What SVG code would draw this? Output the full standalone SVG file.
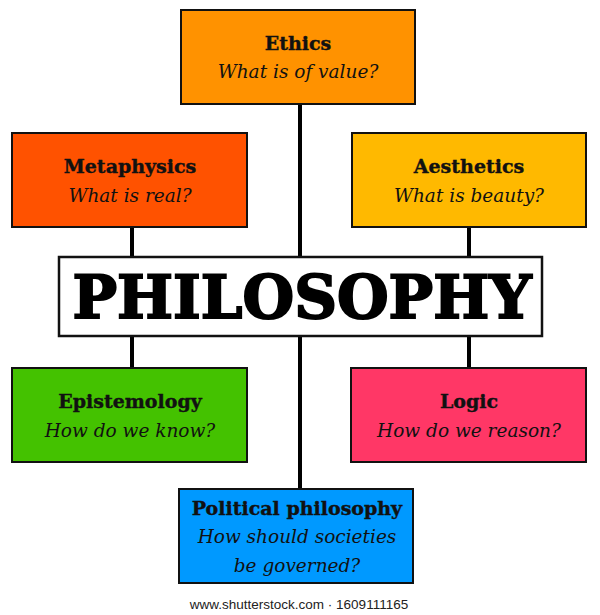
<svg xmlns="http://www.w3.org/2000/svg" width="600" height="615" viewBox="0 0 600 615">
<style>
.box{stroke:#111;stroke-width:2}
.h{font-family:"DejaVu Serif","Liberation Serif",serif;font-weight:bold;font-size:19px;fill:#111;stroke:#111;stroke-width:0.4;text-anchor:middle}
.q{font-family:"DejaVu Serif","Liberation Serif",serif;font-style:italic;font-size:18.5px;fill:#111;text-anchor:middle}
.conn{stroke:#000;stroke-width:4;fill:none}
</style>
<rect width="600" height="615" fill="#fff"/>
<g id="connectors">
<line class="conn" x1="300" y1="104" x2="300" y2="489"/>
<line class="conn" x1="132" y1="227" x2="132" y2="368"/>
<line class="conn" x1="469" y1="227" x2="469" y2="368"/>
</g>
<g id="ethics">
<rect class="box" x="181" y="10" width="234" height="94" fill="#FF9200"/>
<text class="h" x="298" y="50">Ethics</text>
<text class="q" x="298" y="78">What is of value?</text>
</g>
<g id="metaphysics">
<rect class="box" x="12" y="133" width="235" height="94" fill="#FF5200"/>
<text class="h" x="130" y="173">Metaphysics</text>
<text class="q" x="130" y="202">What is real?</text>
</g>
<g id="aesthetics">
<rect class="box" x="352" y="133" width="234" height="94" fill="#FFB900"/>
<text class="h" x="469" y="173">Aesthetics</text>
<text class="q" x="469" y="202">What is beauty?</text>
</g>
<g id="philosophy">
<rect x="59" y="257" width="483" height="79" fill="#fff" stroke="#111" stroke-width="2.5"/>
<text x="302" y="318" font-family="DejaVu Serif, Liberation Serif, serif" font-weight="bold" font-size="60" text-anchor="middle" textLength="459" lengthAdjust="spacingAndGlyphs" fill="#000" stroke="#000" stroke-width="2">PHILOSOPHY</text>
</g>
<g id="epistemology">
<rect class="box" x="12" y="368" width="235" height="94" fill="#44C200"/>
<text class="h" x="130" y="408">Epistemology</text>
<text class="q" x="130" y="437">How do we know?</text>
</g>
<g id="logic">
<rect class="box" x="351" y="368" width="235" height="94" fill="#FF3766"/>
<text class="h" x="469" y="408">Logic</text>
<text class="q" x="469" y="437">How do we reason?</text>
</g>
<g id="political">
<rect class="box" x="179" y="489" width="234" height="94" fill="#0099FF"/>
<text class="h" x="297" y="515">Political philosophy</text>
<text class="q" x="297" y="543">How should societies</text>
<text class="q" x="297" y="572">be governed?</text>
</g>
<text x="299" y="609" font-family="Liberation Sans, Arial, sans-serif" font-size="13.5" fill="#222" text-anchor="middle">www.shutterstock.com · 1609111165</text>
</svg>
